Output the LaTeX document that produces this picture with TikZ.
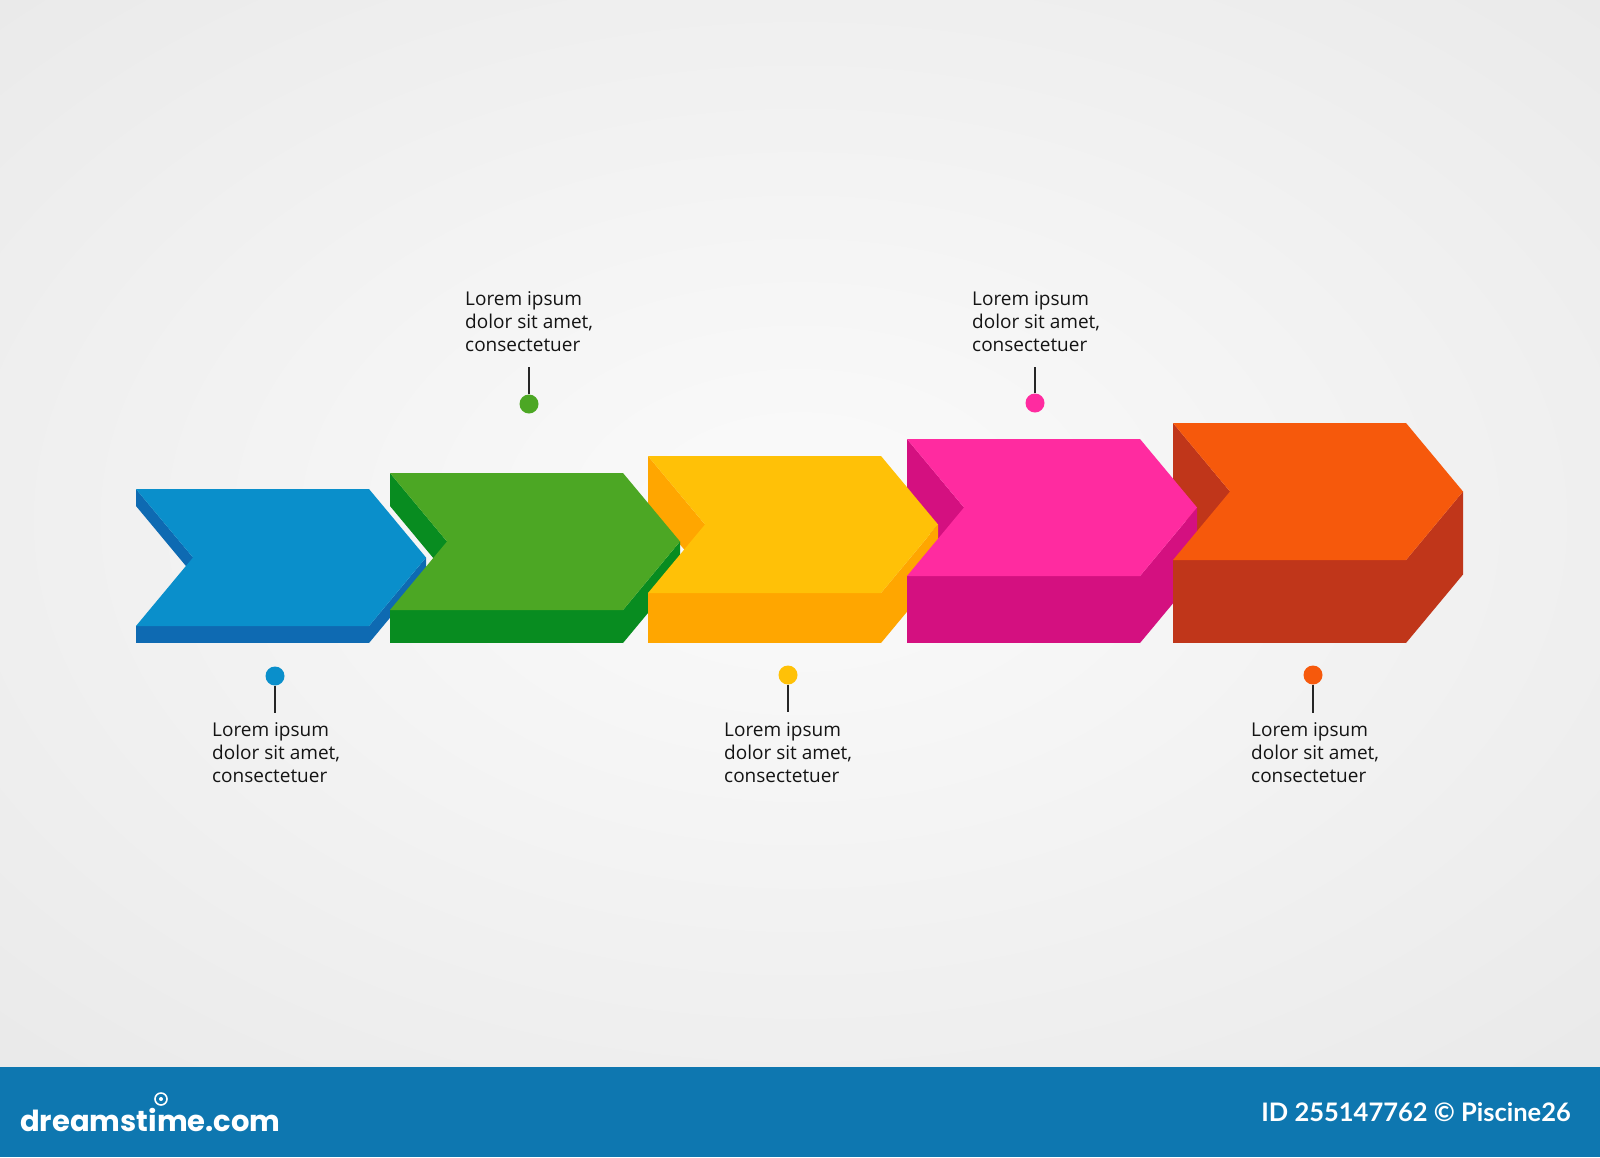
\documentclass[tikz,border=0pt]{standalone}
\usepackage{fontspec}
\setmainfont{Open Sans}
\newfontfamily\logofont{Poppins}
\newfontfamily\creditfont{Lato}

\definecolor{bgIn}{HTML}{FBFBFB}
\definecolor{bgOut}{HTML}{E3E3E3}
\definecolor{bandBlue}{HTML}{0E77B0}
\definecolor{blueTop}{HTML}{0A8FCB}
\definecolor{blueSide}{HTML}{0E6AB2}
\definecolor{greenTop}{HTML}{4CA724}
\definecolor{greenSide}{HTML}{088C20}
\definecolor{yellowTop}{HTML}{FFC107}
\definecolor{yellowSide}{HTML}{FFA600}
\definecolor{pinkTop}{HTML}{FF2BA0}
\definecolor{pinkSide}{HTML}{D41080}
\definecolor{orangeTop}{HTML}{F6590C}
\definecolor{orangeSide}{HTML}{C0361A}

\begin{document}
\begin{tikzpicture}[x=1pt,y=1pt,
  caption/.style={inner sep=0pt, align=left, anchor=north west,
    font=\fontsize{19}{23}\selectfont, text=black!92},
  pin/.style={circle, inner sep=0pt, minimum size=19pt},
  stem/.style={line width=2pt, black!85}]
\useasboundingbox (0,0) rectangle (1600,-1157);
% background
\fill [bgOut] (0,0) rectangle (1600,-1067);
\begin{scope}
\clip (0,0) rectangle (1600,-1067);
\shade [inner color=bgIn, outer color=bgOut] (-800,520) rectangle (2400,-1560);
\end{scope}
% inner faces of the notches
\fill [blueSide] (136,-489) -- (193,-557.5) -- (193,-574.5) -- (136,-506) -- cycle;
\fill [greenSide] (390,-473) -- (447,-541.5) -- (447,-574.5) -- (390,-506) -- cycle;
\fill [yellowSide] (648,-456) -- (705,-524.5) -- (705,-574.5) -- (648,-506) -- cycle;
\fill [pinkSide] (907,-439) -- (964,-507.5) -- (964,-574.5) -- (907,-506) -- cycle;
\fill [orangeSide] (1173,-423) -- (1230,-491.5) -- (1230,-574.5) -- (1173,-506) -- cycle;
% blue
\fill [blueSide] (136,-626) rectangle (369,-643);
\fill [blueSide] (369,-626) -- (426,-557.5) -- (426,-574.5) -- (369,-643) -- cycle;
\fill [blueTop] (136,-489) -- (369,-489) -- (426,-557.5) -- (369,-626) -- (136,-626) -- (193,-557.5) -- cycle;
% green
\fill [greenSide] (390,-610) rectangle (623,-643);
\fill [greenSide] (623,-610) -- (680,-541.5) -- (680,-574.5) -- (623,-643) -- cycle;
\fill [greenTop] (390,-473) -- (623,-473) -- (680,-541.5) -- (623,-610) -- (390,-610) -- (447,-541.5) -- cycle;
% yellow
\fill [yellowSide] (648,-593) rectangle (881,-643);
\fill [yellowSide] (881,-593) -- (938,-524.5) -- (938,-574.5) -- (881,-643) -- cycle;
\fill [yellowTop] (648,-456) -- (881,-456) -- (938,-524.5) -- (881,-593) -- (648,-593) -- (705,-524.5) -- cycle;
% pink
\fill [pinkSide] (907,-576) rectangle (1140,-643);
\fill [pinkSide] (1140,-576) -- (1197,-507.5) -- (1197,-574.5) -- (1140,-643) -- cycle;
\fill [pinkTop] (907,-439) -- (1140,-439) -- (1197,-507.5) -- (1140,-576) -- (907,-576) -- (964,-507.5) -- cycle;
% orange
\fill [orangeSide] (1173,-560) rectangle (1406,-643);
\fill [orangeSide] (1406,-560) -- (1463,-491.5) -- (1463,-574.5) -- (1406,-643) -- cycle;
\fill [orangeTop] (1173,-423) -- (1406,-423) -- (1463,-491.5) -- (1406,-560) -- (1173,-560) -- (1230,-491.5) -- cycle;
% pins and captions
\node [pin, fill=blueTop] (dotBlue) at (275,-676) {};
\coordinate (endBlue) at (275,-713);
\draw [stem] (dotBlue.south) -- (endBlue);
\node [caption] (capBlue) at (212,-722) {Lorem ipsum\\dolor sit amet,\\consectetuer};
\node [pin, fill=greenTop] (dotGreen) at (529,-404) {};
\coordinate (endGreen) at (529,-367);
\draw [stem] (dotGreen.north) -- (endGreen);
\node [caption] (capGreen) at (465,-291) {Lorem ipsum\\dolor sit amet,\\consectetuer};
\node [pin, fill=yellowTop] (dotYellow) at (788,-675) {};
\coordinate (endYellow) at (788,-712);
\draw [stem] (dotYellow.south) -- (endYellow);
\node [caption] (capYellow) at (724,-722) {Lorem ipsum\\dolor sit amet,\\consectetuer};
\node [pin, fill=pinkTop] (dotPink) at (1035,-403) {};
\coordinate (endPink) at (1035,-367);
\draw [stem] (dotPink.north) -- (endPink);
\node [caption] (capPink) at (972,-291) {Lorem ipsum\\dolor sit amet,\\consectetuer};
\node [pin, fill=orangeTop] (dotOrange) at (1313,-675) {};
\coordinate (endOrange) at (1313,-713);
\draw [stem] (dotOrange.south) -- (endOrange);
\node [caption] (capOrange) at (1251,-722) {Lorem ipsum\\dolor sit amet,\\consectetuer};
% footer band
\fill [bandBlue] (0,-1067) rectangle (1600,-1157);
\node [inner sep=0pt, anchor=base west, text=white, font=\logofont\bfseries\fontsize{29}{29}\selectfont] (logo) at (20,-1131) {dreamstime.com};
\draw [white, line width=1.6pt] (161,-1099) circle (6);
\fill [white] (161,-1099) circle (2);
\node [inner sep=0pt, anchor=base east, text=white, font=\creditfont\bfseries\fontsize{25.5}{25.5}\selectfont] (credit) at (1571,-1121) {ID 255147762 © Piscine26};
\end{tikzpicture}
\end{document}
